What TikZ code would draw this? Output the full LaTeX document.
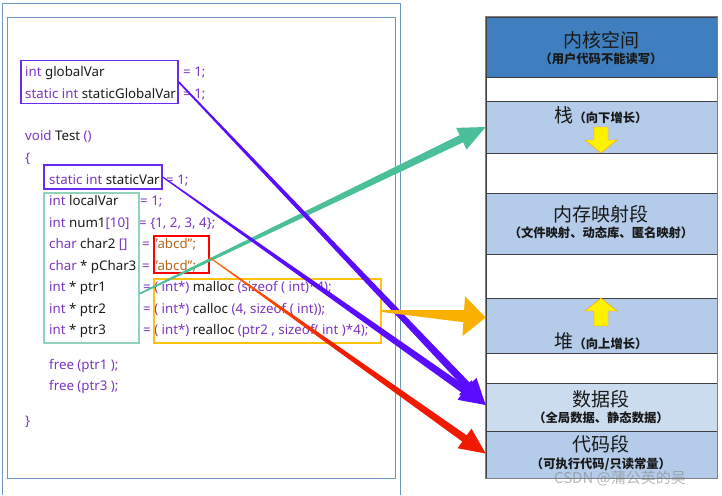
\documentclass[tikz,border=0pt]{standalone}
\usepackage{fontspec}
\setmainfont{Noto Sans}
\newfontfamily\cjk{Noto Sans CJK SC}
\usetikzlibrary{calc}
\definecolor{kw}{HTML}{7B35C0}
\definecolor{idc}{HTML}{1A1A1A}
\definecolor{strc}{HTML}{B8651B}
\definecolor{frame}{HTML}{6E97C3}
\definecolor{vio}{HTML}{5A0CFF}
\definecolor{boxvio}{HTML}{6A2BF0}
\definecolor{teal}{HTML}{4BBF9A}
\definecolor{tealbox}{HTML}{8FD3B8}
\definecolor{orng}{HTML}{F9B000}
\definecolor{orbox}{HTML}{FFC20E}
\definecolor{redc}{HTML}{F01A00}
\definecolor{kern}{HTML}{3F7FBF}
\definecolor{lblue}{HTML}{B4CCEA}
\definecolor{llblue}{HTML}{CCDCEF}
\definecolor{segline}{HTML}{404040}
\newcommand{\kwd}[1]{\textcolor{kw}{#1}}
\newcommand{\idt}[1]{\textcolor{idc}{#1}}
\newcommand{\strc}[1]{\textcolor{strc}{#1}}
\newcommand{\dq}{\symbol{34}}
\newcommand{\subfnt}{\cjk\bfseries\fontsize{12.3}{14}\selectfont}
\newcommand{\taperarrow}[7]{%
  \coordinate (tpH) at ($(#2)!#5!(#1)$);
  \path[#7] ($(#1)!#3!90:(#2)$) -- ($(tpH)!#4!90:(#2)$) -- ($(tpH)!#6!90:(#2)$) -- (#2)
    -- ($(tpH)!#6!-90:(#2)$) -- ($(tpH)!#4!-90:(#2)$) -- ($(#1)!#3!-90:(#2)$) -- cycle;}
\begin{document}
\begin{tikzpicture}[x=1pt,y=-1pt,
  code/.style={anchor=base west, inner sep=0pt, font=\fontsize{13.3}{16}\selectfont, text=kw},
  hbox/.style={draw=#1, line width=1.4pt, inner sep=0pt},
  seg/.style={draw=segline, line width=0.6pt, minimum width=231, inner sep=0pt},
  ttl/.style={font=\cjk\fontsize{19}{21}\selectfont, inner sep=0pt, text=black!90},
  sub/.style={font=\subfnt, inner sep=0pt, text=black!90},
  yarrow/.style={fill=yellow, draw=orange!80!yellow, line width=0.4pt}]
\useasboundingbox (0,0) rectangle (722,495);
\fill[white] (0,0) rectangle (722,495);

% frames
\draw[frame, line width=0.8pt] (2,495) -- (2,3) -- (400,3) -- (400,495);
\draw[frame, line width=0.8pt] (7,17) rectangle (395,478);

% code
\node[code] (l1) at (25,77) {int \idt{globalVar}};
\node[code] (e1) at (183,77) {= 1;};
\node[code] (l2) at (25,98) {static int \idt{staticGlobalVar}};
\node[code] (e2) at (183,98) {= 1;};
\node[code] (l3) at (25,140) {void \idt{Test} ()};
\node[code] (l4) at (25,162) {\{};
\node[code] (l5) at (49,184) {static int \idt{staticVar}};
\node[code] (e5) at (166,184) {= 1;};
\node[code] (l6) at (49,205) {int \idt{localVar}};
\node[code] (e6) at (140,205) {= 1;};
\node[code] (l7) at (49,227) {int \idt{num1}[10]};
\node[code] (e7) at (139,227) {= \{1, 2, 3, 4\};};
\node[code] (l8) at (49,248) {char \idt{char2} []};
\node[code] (e8) at (142,248) {= \strc{\dq abcd\dq;}};
\node[code] (l9) at (49,270) {char \idt{* pChar3}};
\node[code] (e9) at (142,270) {= \strc{\dq abcd\dq;}};
\node[code] (l10) at (49,291) {int \idt{* ptr1}};
\node[code] (e10) at (143,291) {= ( int*) \idt{malloc} (sizeof ( int)*4);};
\node[code] (l11) at (49,313) {int \idt{* ptr2}};
\node[code] (e11) at (143,313) {= ( int*) \idt{calloc} (4, sizeof ( int));};
\node[code] (l12) at (49,334) {int \idt{* ptr3}};
\node[code] (e12) at (143,334) {= ( int*) \idt{realloc} (ptr2 , sizeof( int )*4);};
\node[code] (l13) at (49,369) {free (ptr1 );};
\node[code] (l14) at (49,390) {free (ptr3 );};
\node[code] (l15) at (25,425) {\}};

% highlight boxes
\node[hbox=boxvio, minimum width=157, minimum height=43] (gvbox) at (99.5,82) {};
\node[hbox=boxvio, minimum width=118, minimum height=24] (svbox) at (103,177) {};
\node[hbox=tealbox, line width=1.2pt, minimum width=95, minimum height=150] (lvbox) at (91.5,268) {};
\node[hbox=red, line width=1.2pt, minimum width=55, minimum height=37] (strbox) at (181.5,254.5) {};
\node[hbox=orbox, line width=1.2pt, minimum width=227, minimum height=64] (heapbox) at (267.5,311) {};

% memory layout
\node[seg, fill=kern, minimum height=60] (kernel) at (601.5,47) {};
\node[seg, fill=white, minimum height=24] (gap1) at (601.5,89) {};
\node[seg, fill=lblue, minimum height=52] (stack) at (601.5,127) {};
\node[seg, fill=white, minimum height=40] (gap2) at (601.5,173) {};
\node[seg, fill=lblue, minimum height=61] (mmap) at (601.5,223.5) {};
\node[seg, fill=white, minimum height=44] (gap3) at (601.5,276) {};
\node[seg, fill=lblue, minimum height=55] (heap) at (601.5,325.5) {};
\node[seg, fill=white, minimum height=30] (gap4) at (601.5,368) {};
\node[seg, fill=llblue, minimum height=48] (data) at (601.5,407) {};
\node[seg, fill=lblue, minimum height=47] (textseg) at (601.5,454.5) {};
\draw[gray, line width=1.2pt] (kernel.north west) rectangle (textseg.south east);

\node[ttl] (kt) at (601,40) {内核空间};
\node[sub] (ks) at (601,59) {（用户代码不能读写）};
\node[ttl, anchor=base] (st) at (601,122) {栈{\subfnt（向下增长）}};
\node[ttl] (mt) at (601,214) {内存映射段};
\node[sub] (ms) at (601,233) {（文件映射、动态库、匿名映射）};
\node[ttl, anchor=base] (ht) at (601,348) {堆{\subfnt（向上增长）}};
\node[ttl] (dt) at (601,399) {数据段};
\node[sub] (ds) at (601,418) {（全局数据、静态数据）};
\node[ttl] (ct) at (601,444) {代码段};
\node[sub] (cs) at (601,464) {（可执行代码/只读常量）};

% yellow growth arrows
\draw[yarrow] (594,127) -- (608,127) -- (608,140) -- (617,140) -- (601,153) -- (585,140) -- (594,140) -- cycle;
\draw[yarrow] (594,326) -- (608,326) -- (608,311) -- (617,311) -- (601,298) -- (585,311) -- (594,311) -- cycle;

% connectors
\coordinate (tealS) at ($(lvbox.south east)!0.33!(lvbox.north east)$);
\coordinate (tealE) at (stack.west);
\coordinate (orS) at (heapbox.east);
\coordinate (orE) at ($(heap.west)+(0,-8)$);
\coordinate (v1S) at (gvbox.east);
\coordinate (v2S) at (svbox.east);
\coordinate (vE) at ($(data.west)+(0,-2)$);
\coordinate (rS) at ($(strbox.east)+(0,3)$);
\coordinate (rE) at ($(textseg.west)+(0,-1)$);

\taperarrow{tealS}{tealE}{0.8pt}{4pt}{27pt}{12pt}{fill=teal}
\taperarrow{v1S}{vE}{0.8pt}{3.8pt}{26pt}{12pt}{fill=vio}
\taperarrow{v2S}{vE}{0.6pt}{3.8pt}{26pt}{12pt}{fill=vio}
\taperarrow{rS}{rE}{0.5pt}{3.8pt}{26pt}{12pt}{left color=orange!80!red, right color=redc, middle color=redc}
\taperarrow{orS}{orE}{1pt}{6pt}{22pt}{20pt}{fill=orng}

% watermark text
\node[font=\cjk\fontsize{15}{17}\selectfont, text=gray, opacity=0.55, inner sep=0pt] (wm) at (620,478) {CSDN @蒲公英的吴};
\end{tikzpicture}
\end{document}
